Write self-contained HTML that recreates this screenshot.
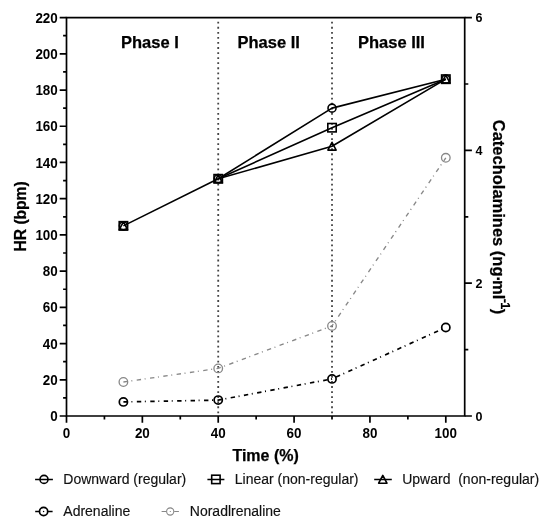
<!DOCTYPE html><html><head><meta charset="utf-8"><style>html,body{margin:0;padding:0;background:#fff;}svg{display:block}</style></head><body>
<svg width="550" height="529" viewBox="0 0 550 529" font-family="'Liberation Sans', Arial, sans-serif">
<rect width="550" height="529" fill="#fff"/>
<line x1="218.22" y1="21.8" x2="218.22" y2="416" stroke="#444" stroke-width="1.8" stroke-dasharray="1.8 3.26"/>
<line x1="332.01" y1="21.8" x2="332.01" y2="416" stroke="#444" stroke-width="1.8" stroke-dasharray="1.8 3.26"/>
<path d="M66.5 17.6V416H464.7V17.6Z" fill="none" stroke="#000" stroke-width="1.7" stroke-linejoin="miter"/>
<path d="M59.7 416H66.5M63.1 397.89H66.5M59.7 379.78H66.5M63.1 361.67H66.5M59.7 343.56H66.5M63.1 325.45H66.5M59.7 307.35H66.5M63.1 289.24H66.5M59.7 271.13H66.5M63.1 253.02H66.5M59.7 234.91H66.5M63.1 216.8H66.5M59.7 198.69H66.5M63.1 180.58H66.5M59.7 162.47H66.5M63.1 144.36H66.5M59.7 126.25H66.5M63.1 108.15H66.5M59.7 90.04H66.5M63.1 71.93H66.5M59.7 53.82H66.5M63.1 35.71H66.5M59.7 17.6H66.5M66.5 416V422.8M104.43 416V419.4M142.36 416V422.8M180.29 416V419.4M218.22 416V422.8M256.15 416V419.4M294.08 416V422.8M332.01 416V419.4M369.94 416V422.8M407.87 416V419.4M445.8 416V422.8M464.7 416H471.9M464.7 349.6H468.3M464.7 283.2H471.9M464.7 216.8H468.3M464.7 150.4H471.9M464.7 84H468.3M464.7 17.6H471.9" stroke="#000" stroke-width="1.7" fill="none"/>
<g font-weight="bold" font-size="14.6" fill="#000" transform="scale(0.92 1)">
<text x="62.83" y="421.1" text-anchor="end">0</text>
<text x="62.83" y="384.88" text-anchor="end">20</text>
<text x="62.83" y="348.66" text-anchor="end">40</text>
<text x="62.83" y="312.45" text-anchor="end">60</text>
<text x="62.83" y="276.23" text-anchor="end">80</text>
<text x="62.83" y="240.01" text-anchor="end">100</text>
<text x="62.83" y="203.79" text-anchor="end">120</text>
<text x="62.83" y="167.57" text-anchor="end">140</text>
<text x="62.83" y="131.35" text-anchor="end">160</text>
<text x="62.83" y="95.14" text-anchor="end">180</text>
<text x="62.83" y="58.92" text-anchor="end">200</text>
<text x="62.83" y="22.7" text-anchor="end">220</text>
<text x="72.28" y="438.5" text-anchor="middle">0</text>
<text x="154.74" y="438.5" text-anchor="middle">20</text>
<text x="237.2" y="438.5" text-anchor="middle">40</text>
<text x="319.65" y="438.5" text-anchor="middle">60</text>
<text x="402.11" y="438.5" text-anchor="middle">80</text>
<text x="484.57" y="438.5" text-anchor="middle">100</text>
</g>
<g font-weight="bold" font-size="13.2" fill="#000" transform="scale(0.95 1)">
<text x="500.63" y="420.7">0</text>
<text x="500.63" y="287.9">2</text>
<text x="500.63" y="155.1">4</text>
<text x="500.63" y="22.3">6</text>
</g>
<g font-weight="bold" font-size="16.5" fill="#000" stroke="#000" stroke-width="0.25">
<text x="265.6" y="461.3" text-anchor="middle" font-size="16">Time (%)</text>
<text transform="translate(25.5 216.4) rotate(-90)" text-anchor="middle" font-size="15.6">HR (bpm)</text>
<text transform="translate(492.8 217.0) rotate(90)" text-anchor="middle">Catecholamines (ng·<tspan dx="-2">ml</tspan><tspan font-size="12.6" dy="-8.6" dx="-0.6">-</tspan><tspan font-size="12.6" dx="-0.5">1</tspan><tspan dy="8.6" dx="-0.6">)</tspan></text>
<text x="121" y="48" >Phase I</text>
<text x="237.5" y="48" >Phase II</text>
<text x="358" y="48" >Phase III</text>
</g>
<polyline points="123.4,382 218.22,368.4 332.01,325.9 445.8,157.8" fill="none" stroke="#888" stroke-width="1.35" stroke-dasharray="4.4 3.6 1 4.44"/>
<polyline points="123.4,401.9 218.22,400.1 332.01,378.9 445.8,327.5" fill="none" stroke="#000" stroke-width="1.7" stroke-dasharray="4.4 3.6 1 4.44"/>
<circle cx="123.4" cy="382" r="4.3" fill="none" stroke="#888" stroke-width="1.3"/>
<circle cx="218.22" cy="368.4" r="4.3" fill="none" stroke="#888" stroke-width="1.3"/>
<circle cx="332.01" cy="325.9" r="4.3" fill="none" stroke="#888" stroke-width="1.3"/>
<circle cx="445.8" cy="157.8" r="4.3" fill="none" stroke="#888" stroke-width="1.3"/>
<circle cx="123.4" cy="401.9" r="4.1" fill="none" stroke="#000" stroke-width="1.7"/>
<circle cx="218.22" cy="400.1" r="4.1" fill="none" stroke="#000" stroke-width="1.7"/>
<circle cx="332.01" cy="378.9" r="4.1" fill="none" stroke="#000" stroke-width="1.7"/>
<circle cx="445.8" cy="327.5" r="4.1" fill="none" stroke="#000" stroke-width="1.7"/>
<line x1="123.4" y1="225.85" x2="218.22" y2="178.77" stroke="#000" stroke-width="1.6"/>
<polyline points="218.22,178.77 332.01,108.15 445.8,79.17" fill="none" stroke="#000" stroke-width="1.6" stroke-linejoin="round"/>
<polyline points="218.22,178.77 332.01,127.7 445.8,79.17" fill="none" stroke="#000" stroke-width="1.6" stroke-linejoin="round"/>
<polyline points="218.22,178.77 332.01,146.3 445.8,79.17" fill="none" stroke="#000" stroke-width="1.6" stroke-linejoin="round"/>
<circle cx="123.4" cy="225.85" r="4" fill="none" stroke="#000" stroke-width="1.6"/>
<circle cx="218.22" cy="178.77" r="4" fill="none" stroke="#000" stroke-width="1.6"/>
<circle cx="332.01" cy="108.15" r="4" fill="none" stroke="#000" stroke-width="1.6"/>
<circle cx="445.8" cy="79.17" r="4" fill="none" stroke="#000" stroke-width="1.6"/>
<rect x="119.2" y="221.65" width="8.4" height="8.4" fill="none" stroke="#000" stroke-width="1.6"/>
<rect x="214.02" y="174.57" width="8.4" height="8.4" fill="none" stroke="#000" stroke-width="1.6"/>
<rect x="327.81" y="123.5" width="8.4" height="8.4" fill="none" stroke="#000" stroke-width="1.6"/>
<rect x="441.6" y="74.97" width="8.4" height="8.4" fill="none" stroke="#000" stroke-width="1.6"/>
<path d="M123.4 221.85L127.55 229.65H119.25Z" fill="none" stroke="#000" stroke-width="1.6" stroke-linejoin="round"/>
<path d="M218.22 174.77L222.37 182.57H214.07Z" fill="none" stroke="#000" stroke-width="1.6" stroke-linejoin="round"/>
<path d="M332.01 142.3L336.16 150.1H327.86Z" fill="none" stroke="#000" stroke-width="1.6" stroke-linejoin="round"/>
<path d="M445.8 75.17L449.95 82.97H441.65Z" fill="none" stroke="#000" stroke-width="1.6" stroke-linejoin="round"/>
<g font-size="14" fill="#111" stroke="#111" stroke-width="0.15">
<text x="63.3" y="484.4">Downward (regular)</text>
<text x="234.8" y="484.4">Linear (non-regular)</text>
<text x="402.2" y="484.4" xml:space="preserve">Upward  (non-regular)</text>
<text x="63.3" y="515.7">Adrenaline</text>
<text x="189.8" y="515.7">Noradlrenaline</text>
</g>
<path d="M35.1 479.4H52.9M207.4 479.4H224.4M374.2 479.4H391.8" stroke="#000" stroke-width="1.5"/>
<circle cx="44" cy="479.4" r="4" fill="none" stroke="#000" stroke-width="1.6"/>
<rect x="211.7" y="475.2" width="8.4" height="8.4" fill="none" stroke="#000" stroke-width="1.6"/>
<path d="M382.8 475.4L386.95 483.2H378.65Z" fill="none" stroke="#000" stroke-width="1.6" stroke-linejoin="round"/>
<path d="M35.2 511.5H39.5M47.8 511.5H52.6" stroke="#000" stroke-width="1.7"/>
<circle cx="43.6" cy="511.5" r="4.1" fill="none" stroke="#000" stroke-width="1.7"/><circle cx="43.6" cy="511.5" r="0.7" fill="#000"/>
<path d="M161.6 511.5H166.2M174.2 511.5H178.9" stroke="#888" stroke-width="1.1"/>
<circle cx="170.2" cy="511.5" r="3.6" fill="none" stroke="#888" stroke-width="1.1"/><rect x="169.8" y="511.0" width="1" height="1" fill="#888"/>
</svg></body></html>
